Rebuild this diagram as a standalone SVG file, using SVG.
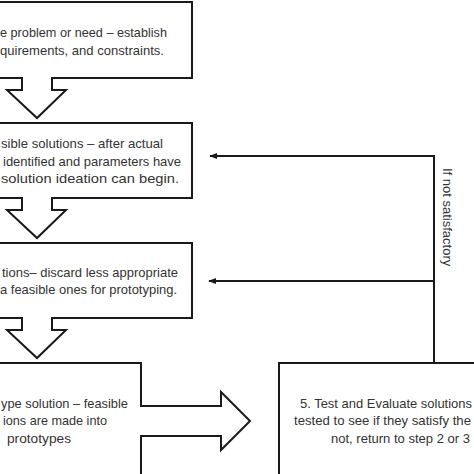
<svg xmlns="http://www.w3.org/2000/svg" width="474" height="474" viewBox="0 0 474 474">
<style>
.box{fill:#fff;stroke:#1a1a1a;stroke-width:2}
.arr{fill:#fff;stroke:#1a1a1a;stroke-width:2;stroke-linejoin:miter}
.t{font-family:"Liberation Sans",Arial,sans-serif;font-size:13px;fill:#333}
.conn{fill:none;stroke:#1a1a1a;stroke-width:2}
</style>
<defs>
<marker id="ah" viewBox="0 0 10 10" refX="9" refY="5" markerWidth="4" markerHeight="4" orient="auto">
<path d="M0,1 L10,5 L0,9 Z" fill="#1a1a1a"/>
</marker>
</defs>
<rect width="474" height="474" fill="#fff"/>
<g id="connectors">
<path class="conn" d="M434,363 V156 H210" marker-end="url(#ah)"/>
<path class="conn" d="M434,281 H209" marker-end="url(#ah)"/>
<text class="t" transform="translate(443,168) rotate(90)">If not satisfactory</text>
</g>
<g id="step1">
<rect class="box" x="-10" y="2" width="202" height="76"/>
<text class="t" x="0" y="37" textLength="167" lengthAdjust="spacingAndGlyphs">e problem or need – establish</text>
<text class="t" x="0" y="55" textLength="164" lengthAdjust="spacingAndGlyphs">quirements, and constraints.</text>
<path class="arr" d="M22,77 V90 H7 L37,118 L66,90 H52 V77"/>
</g>
<g id="step2">
<rect class="box" x="-10" y="123" width="202" height="75"/>
<text class="t" x="1" y="148" textLength="162" lengthAdjust="spacingAndGlyphs">sible solutions – after actual</text>
<text class="t" x="3" y="166" textLength="178" lengthAdjust="spacingAndGlyphs">identified and parameters have</text>
<text class="t" x="1" y="183" textLength="178" lengthAdjust="spacingAndGlyphs">solution ideation can begin.</text>
<path class="arr" d="M22,197 V210 H7 L37,238 L66,210 H52 V197"/>
</g>
<g id="step3">
<rect class="box" x="-10" y="243" width="202" height="75"/>
<text class="t" x="2" y="277" textLength="176" lengthAdjust="spacingAndGlyphs">tions– discard less appropriate</text>
<text class="t" x="0" y="294" textLength="177" lengthAdjust="spacingAndGlyphs">a feasible ones for prototyping.</text>
<path class="arr" d="M22,317 V330 H7 L37,358 L66,330 H52 V317"/>
</g>
<g id="step4">
<path class="arr" d="M-10,363 H141 V406 H221 V392 L250,421 L221,450 V436 H141 V480 H-10 Z"/>
<text class="t" x="1" y="408" textLength="127" lengthAdjust="spacingAndGlyphs">ype solution – feasible</text>
<text class="t" x="3" y="425" textLength="104" lengthAdjust="spacingAndGlyphs">ions are made into</text>
<text class="t" x="7" y="443" textLength="64" lengthAdjust="spacingAndGlyphs">prototypes</text>
</g>
<g id="step5">
<rect class="box" x="279" y="363" width="210" height="120"/>
<text class="t" x="300" y="408" textLength="172" lengthAdjust="spacingAndGlyphs">5. Test and Evaluate solutions</text>
<text class="t" x="294" y="425" textLength="177" lengthAdjust="spacingAndGlyphs">tested to see if they satisfy the</text>
<text class="t" x="331" y="443" textLength="139" lengthAdjust="spacingAndGlyphs">not, return to step 2 or 3</text>
</g>
</svg>
